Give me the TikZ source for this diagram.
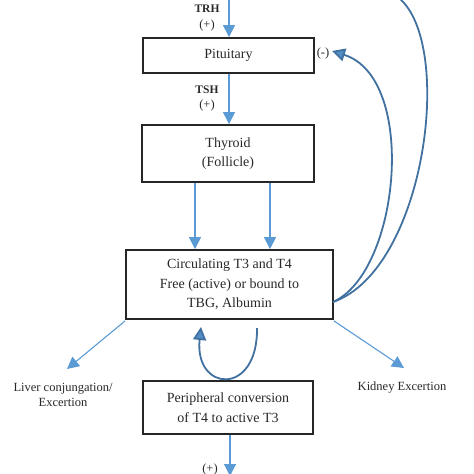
\documentclass[tikz,border=0pt]{standalone}
\usepackage{fontspec}
\setmainfont{Liberation Serif}
\usetikzlibrary{arrows.meta}
\definecolor{lblue}{RGB}{91,155,213}
\definecolor{dblue}{RGB}{65,113,160}
\definecolor{txt}{RGB}{40,40,40}
\tikzset{
  boxnode/.style={draw=black!85, line width=1.8pt, text=txt, align=center, inner sep=0pt, font=\fontsize{14}{19.5}\selectfont},
  lbl/.style={text=txt, align=center, inner sep=0pt, font=\fontsize{12.5}{15}\selectfont},
  blbl/.style={text=txt, inner sep=0pt, font=\bfseries\fontsize{11.5}{13}\selectfont},
  sarrow/.style={draw=lblue, line width=1.1pt, -{Triangle[length=12pt,width=12pt]}},
  carrow/.style={draw=dblue, line width=1.8pt},
}
\begin{document}
\begin{tikzpicture}[x=1pt,y=-1pt]
\useasboundingbox (0,0) rectangle (474,474);
% boxes
\node[boxnode, minimum width=171pt, minimum height=35pt] (pit) at (228.5,55.5) {Pituitary};
\node[boxnode, minimum width=172pt, minimum height=57pt] (thy) at (228,153.5) {Thyroid\\(Follicle)};
\node[boxnode, minimum width=207pt, minimum height=69pt] (circ) at (229.5,284.5) {Circulating T3 and T4\\Free (active) or bound to\\TBG, Albumin};
\node[boxnode, minimum width=170pt, minimum height=53pt] (per) at (228,407.5) {Peripheral conversion\\of T4 to active T3};
% labels
\node[blbl] (trh) at (207,9) {TRH};
\node[lbl] (p1) at (207,25) {(+)};
\node[blbl] (tsh) at (207,90) {TSH};
\node[lbl] (p2) at (207,105) {(+)};
\node[lbl] (minus) at (323,53) {(-)};
\node[lbl] (liver) at (63,395) {Liver conjungation/\\Excertion};
\node[lbl] (kidney) at (402,388) {Kidney Excertion};
\node[lbl] (p3) at (210,469) {(+)};
% coordinates
\coordinate (top) at (229,-2);
\coordinate (bot) at (230,476);
\coordinate (ltip) at (67,369);
\coordinate (rtip) at (404,368);
\coordinate (fb) at (333,302);
\coordinate (fbtip) at (332,51);
\coordinate (outer) at (399,-2);
\coordinate (loopa) at (257,328);
\coordinate (loopb) at (201,327);
% straight arrows
\draw[sarrow] (top) -- (pit.north -| top);
\draw[sarrow] (pit.south -| top) -- (thy.north -| top);
\draw[sarrow] (thy.south -| 195,0) -- (circ.north -| 195,0);
\draw[sarrow] (thy.south -| 270,0) -- (circ.north -| 270,0);
\draw[sarrow] (circ.south west) ++(0,1) -- (ltip);
\draw[sarrow] (circ.south east) ++(0,1) -- (rtip);
\draw[sarrow] (per.south -| bot) -- (bot);
% curved feedback
\draw[carrow, -{Triangle[length=13pt,width=13pt,fill=lblue!70!dblue]}] (fb) .. controls (400,272) and (418,78) .. (fbtip);
\draw[carrow] (fb) .. controls (425,270) and (455,45) .. (outer);
\draw[carrow, -{Triangle[length=13pt,width=13pt,fill=lblue!70!dblue]}] (loopa) .. controls (258,397) and (194,392) .. (loopb);
\end{tikzpicture}
\end{document}
